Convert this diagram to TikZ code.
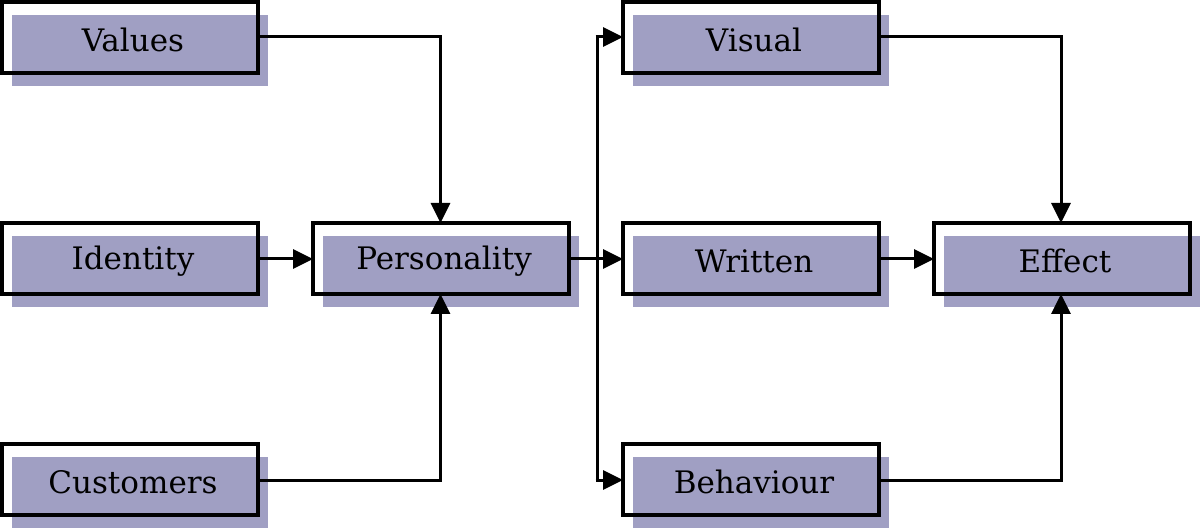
\documentclass[tikz,border=0pt]{standalone}
\usepackage{fontspec}
\setmainfont{DejaVu Serif}
\usetikzlibrary{arrows.meta}
\definecolor{lav}{HTML}{A09FC3}
\begin{document}
\begin{tikzpicture}[x=1pt,y=-1pt,
  conn/.style={line width=3pt,-{Triangle[length=20pt,width=19pt]}},
  plain/.style={line width=3pt}]
\useasboundingbox (0,0) rectangle (1200,529);
\newcommand\bx[4]{%
  \fill[lav] (#2+10,#3+13) rectangle (#2+266,#3+84);
  \draw[line width=3.5pt] (#2,#3) rectangle (#2+256,#3+71);
  \node[inner sep=0,font=\fontsize{31}{36}\selectfont] (#1) at (#2+128,#3+35.5) {\phantom{Xy}};
  \node[inner sep=0,font=\fontsize{31}{36}\selectfont] at (#2+131,#3+38) {#4};
  \path (#2,#3) coordinate (#1-nw) (#2+256,#3+71) coordinate (#1-se);}
\bx{val}{2}{2}{Values}
\bx{idn}{2}{223}{Identity}
\bx{cus}{2}{444}{Customers}
\bx{per}{313}{223}{Personality}
\bx{vis}{623}{2}{Visual}
\bx{wri}{623}{223}{Written}
\bx{beh}{623}{444}{Behaviour}
\bx{eff}{934}{223}{Effect}
\coordinate (pt) at (440.5,223);
\coordinate (pb) at (440.5,294);
\coordinate (et) at (1061,223);
\coordinate (eb) at (1061,294);
\coordinate (br) at (597,259);
\draw[conn] (258,37) -| (pt);
\draw[conn] (258,480) -| (pb);
\draw[conn] (258,259) -- (313,259);
\draw[conn] (568,259) -- (623,259);
\draw[plain] (597,37) -- (597,480);
\draw[conn] (595.5,37) -- (623,37);
\draw[conn] (595.5,480) -- (623,480);
\draw[conn] (879,37) -| (et);
\draw[conn] (879,480) -| (eb);
\draw[conn] (879,259) -- (934,259);
\end{tikzpicture}
\end{document}
